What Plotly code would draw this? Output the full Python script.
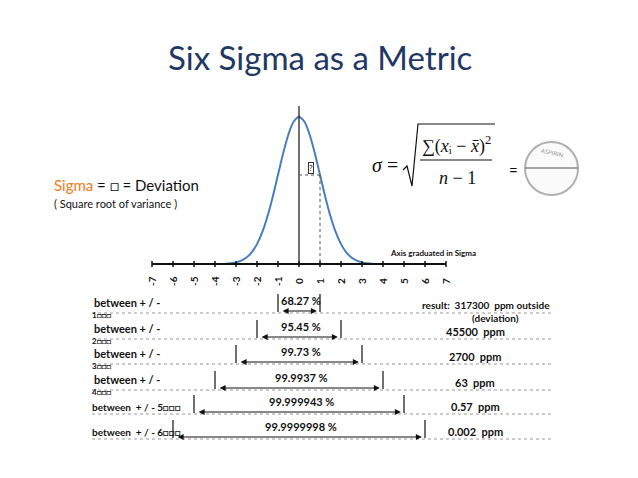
import plotly.graph_objects as go

# data
sigma_pts = [-3.5, -3.25, -3.0, -2.75, -2.5, -2.25, -2.0, -1.75, -1.5, -1.25, -1.0, -0.75, -0.5, -0.25,
             0.0, 0.25, 0.5, 0.75, 1.0, 1.25, 1.5, 1.75, 2.0, 2.25, 2.5, 2.75, 3.0, 3.25, 3.5]
half = [0.3989, 0.3867, 0.3521, 0.3011, 0.2420, 0.1826, 0.1295, 0.0863, 0.0540, 0.0317, 0.0175, 0.0091,
        0.0044, 0.0020, 0.0009]
density = half[::-1] + half[1:]
ticks = list(range(-7, 8))
levels = [1, 2, 3, 4, 5, 6]
percents = ["68.27 %", "95.45 %", "99.73 %", "99.9937 %", "99.999943 %", "99.9999998 %"]
ppm = ["result:  317300  ppm outside", "45500  ppm", "2700  ppm", "63  ppm", "0.57  ppm", "0.002  ppm"]

OFF = 8                # page body margin
X0, UNIT = 299 - OFF, 21
AXIS_Y, PEAK_Y = 264, 117
scale = (AXIS_Y - PEAK_Y) / max(density)


def sx(px):
    return (px - OFF - X0) / UNIT


def py(p):
    return p - OFF


fig = go.Figure()
fig.add_trace(go.Scatter(x=sigma_pts, y=[py(AXIS_Y - d * scale) for d in density], mode="lines",
                         line=dict(color="#4a7ebb", width=2, shape="spline"), hoverinfo="skip"))

shapes = []
ann = []
BLK = "#111111"
# sigma axis
shapes.append(dict(type="line", x0=-7, x1=7, y0=py(AXIS_Y), y1=py(AXIS_Y), line=dict(color=BLK, width=2)))
for t in ticks:
    shapes.append(dict(type="line", x0=t, x1=t, y0=py(AXIS_Y - 3), y1=py(AXIS_Y + 3),
                       line=dict(color=BLK, width=1.5)))
    ann.append(dict(x=t, y=py(281), text="<b>%d</b>" % t, textangle=-90, showarrow=False,
                    font=dict(size=10, color=BLK)))
shapes.append(dict(type="line", x0=0, x1=0, y0=py(106), y1=py(AXIS_Y), line=dict(color=BLK, width=1.2)))
shapes.append(dict(type="line", x0=1, x1=1, y0=py(175), y1=py(AXIS_Y),
                   line=dict(color="#555", width=1, dash="dot")))
shapes.append(dict(type="line", x0=0, x1=1, y0=py(175), y1=py(175),
                   line=dict(color="#555", width=1, dash="dot")))
ann.append(dict(x=sx(311), y=py(168), text="?", showarrow=False, bordercolor="#333", borderwidth=1,
                borderpad=0, font=dict(size=8, color=BLK)))
ann.append(dict(x=sx(388), y=py(253), text="<b>Axis graduated in Sigma</b>", xanchor="left", showarrow=False,
                font=dict(size=8, color=BLK)))

# rows
row_y = [312, 338, 363, 389, 413, 438]
for i, k in enumerate(levels):
    y = py(row_y[i])
    shapes.append(dict(type="line", x0=sx(92), x1=sx(552), y0=y + 1, y1=y + 1,
                       line=dict(color="#999", width=1, dash="dot")))
    for s in (-k, k):
        shapes.append(dict(type="line", x0=s, x1=s, y0=y - 18, y1=y, line=dict(color=BLK, width=1.2)))
    ann.append(dict(x=k - 0.15, y=y - 1, ax=-k + 0.15, ay=y - 1, axref="x", ayref="y", xref="x", yref="y",
                    text="", showarrow=True, arrowhead=2, arrowsize=1, arrowwidth=1.2, arrowcolor=BLK,
                    startarrowhead=2, arrowside="end+start", startarrowsize=1))
    ann.append(dict(x=0.1, y=y - 12, text="<b>%s</b>" % percents[i], showarrow=False,
                    font=dict(size=11, color=BLK)))
    if k < 5:
        ann.append(dict(x=sx(92), y=y - 10, text="<b>between + / -</b>", xanchor="left", showarrow=False,
                        font=dict(size=11, color=BLK)))
        ann.append(dict(x=sx(90), y=y + 3, text="<b>%d\u25a1\u25a1\u25a1</b>" % k, xanchor="left",
                        showarrow=False, font=dict(size=8, color=BLK)))
    else:
        ann.append(dict(x=sx(90), y=y - 6, text="<b>between  + / - %d\u25a1\u25a1\u25a1</b>" % k,
                        xanchor="left", showarrow=False, font=dict(size=10, color=BLK)))
    if i == 0:
        ann.append(dict(x=sx(552), y=y - 7, text="<b>%s</b>" % ppm[i], xanchor="right", showarrow=False,
                        font=dict(size=10, color=BLK)))
        ann.append(dict(x=sx(495), y=y + 6, text="<b>(deviation)</b>", showarrow=False,
                        font=dict(size=10, color=BLK)))
    else:
        ann.append(dict(x=sx(475), y=y - 7, text="<b>%s</b>" % ppm[i], showarrow=False,
                        font=dict(size=11, color=BLK)))

# title and sigma text
ann.append(dict(x=sx(320), y=py(57), text="Six Sigma as a Metric", showarrow=False,
                font=dict(size=33, color="#1f3864")))
ann.append(dict(x=sx(52), y=py(185), xanchor="left", showarrow=False,
                text="<span style='color:#f07b20'>Sigma</span> = \u25a1 = Deviation",
                font=dict(size=15, color=BLK)))
ann.append(dict(x=sx(52), y=py(203), xanchor="left", showarrow=False, text="( Square root of variance )",
                font=dict(size=11, color=BLK)))

# formula
serif = "Liberation Serif"
ann.append(dict(x=sx(370), y=py(165), xanchor="left", showarrow=False, text="<i>\u03c3</i> =",
                font=dict(size=20, family=serif, color=BLK)))
shapes.append(dict(type="path", path="M %f,%f L %f,%f L %f,%f L %f,%f L %f,%f" %
                   (sx(403), py(170), sx(407), py(166), sx(412), py(186), sx(418), py(124), sx(495), py(124)),
                   line=dict(color=BLK, width=1.2)))
shapes.append(dict(type="line", x0=sx(420), x1=sx(492), y0=py(160), y1=py(160), line=dict(color=BLK, width=1)))
ann.append(dict(x=sx(456), y=py(145), showarrow=False,
                text="\u2211(<i>x</i>\u1d62 \u2212 <i>x\u0304</i>)<sup>2</sup>",
                font=dict(size=18, family=serif, color=BLK)))
ann.append(dict(x=sx(457), y=py(178), showarrow=False, text="<i>n</i> \u2212 1",
                font=dict(size=18, family=serif, color=BLK)))
ann.append(dict(x=sx(513), y=py(170), showarrow=False, text="=", font=dict(size=15, color=BLK)))
# aspirin pill
shapes.append(dict(type="circle", x0=sx(525), x1=sx(578), y0=py(142), y1=py(195),
                   line=dict(color="#b0b0b0", width=2), fillcolor="#fafafa"))
shapes.append(dict(type="line", x0=sx(525), x1=sx(578), y0=py(168), y1=py(168),
                   line=dict(color="#888", width=1.5)))
ann.append(dict(x=sx(552), y=py(152), showarrow=False, text="ASPIRIN", textangle=12,
                font=dict(size=6, color="#999")))

fig.update_layout(width=638, height=478, margin=dict(l=0, r=0, t=0, b=0), showlegend=False,
                  plot_bgcolor="white", paper_bgcolor="white", shapes=shapes, annotations=ann,
                  font=dict(family="Lato, Open Sans, sans-serif"))
fig.update_xaxes(range=[sx(OFF), sx(638 + OFF)], visible=False, fixedrange=True)
fig.update_yaxes(range=[478, 0], visible=False, fixedrange=True)
fig.write_html("out.html")
